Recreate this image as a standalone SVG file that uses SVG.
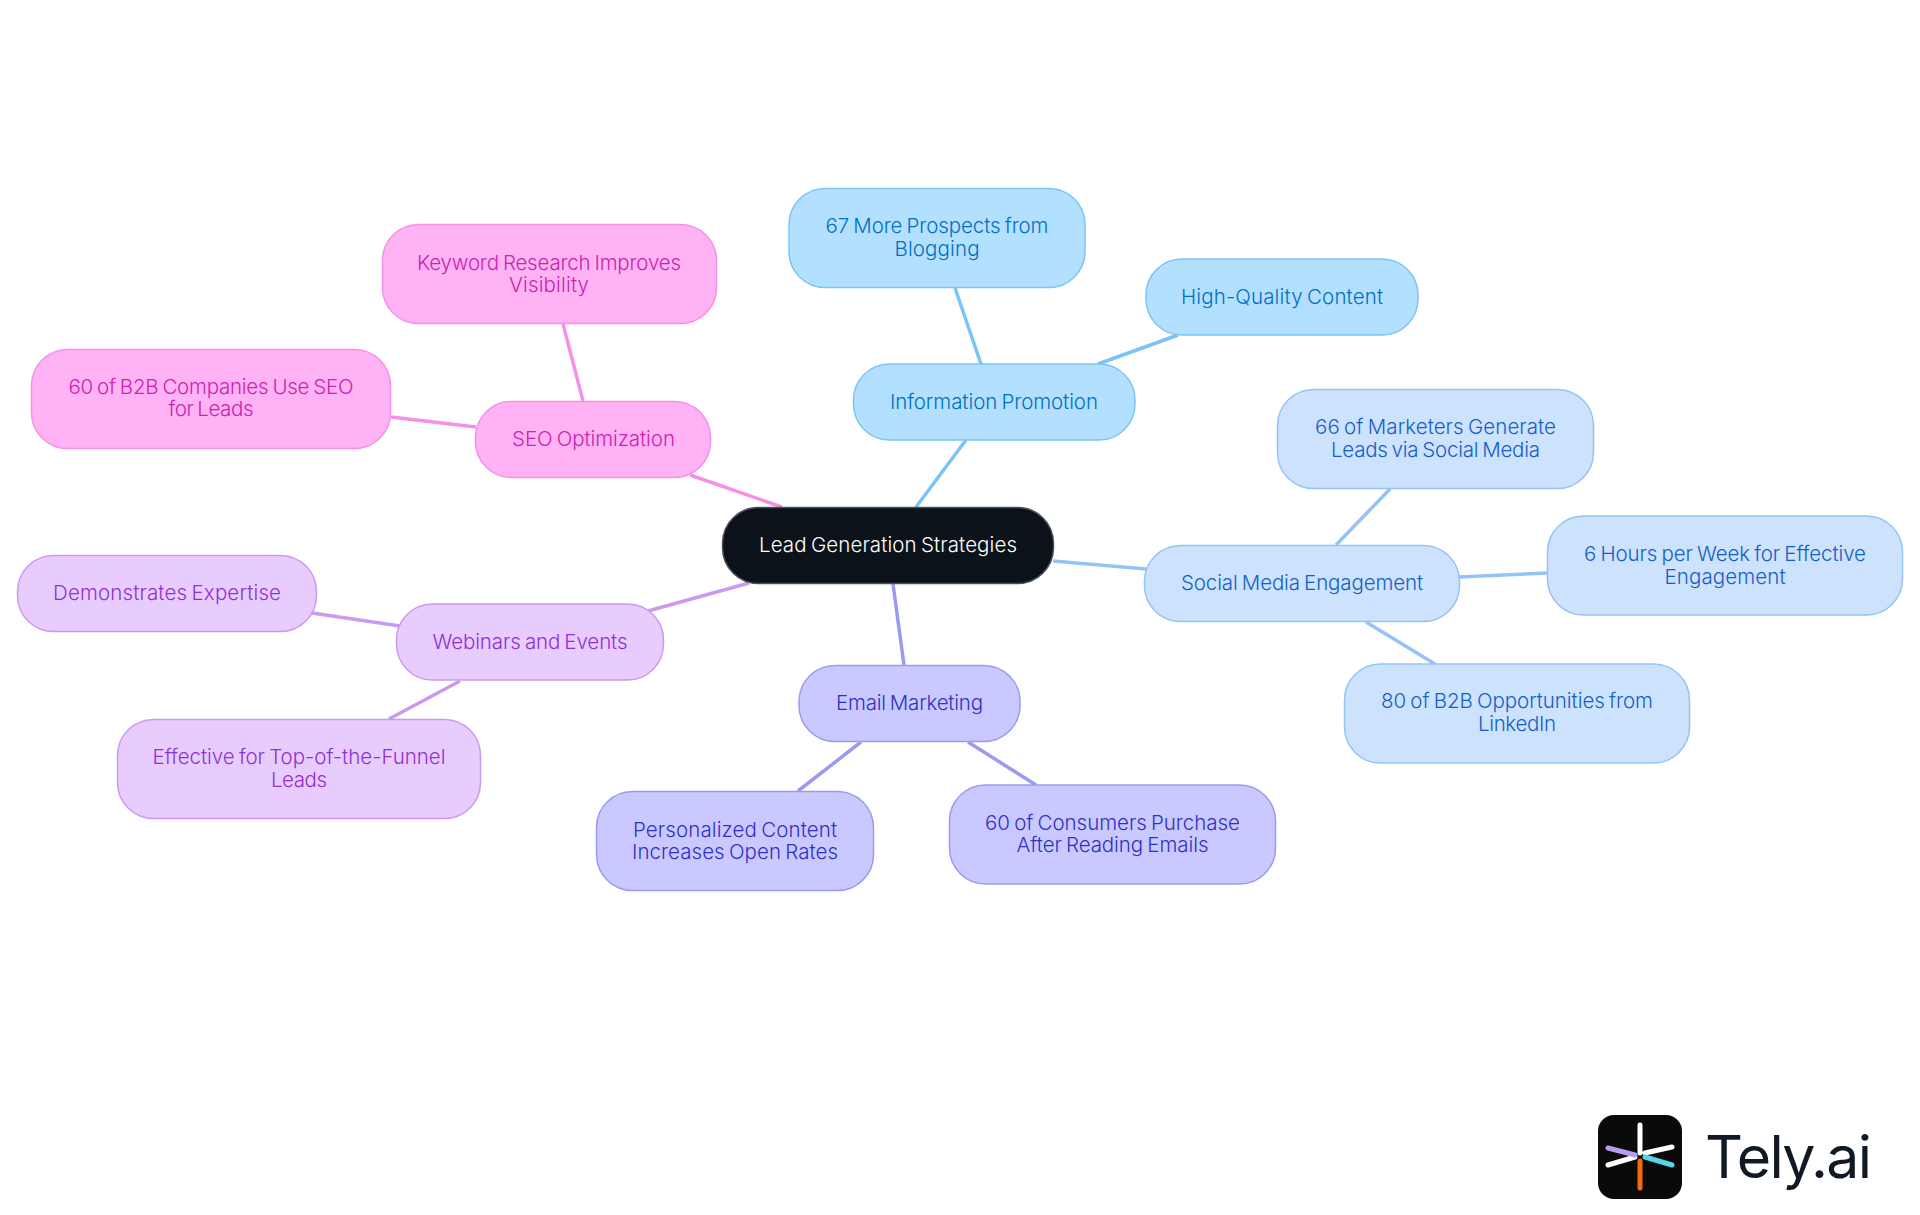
<svg xmlns="http://www.w3.org/2000/svg" width="1920" height="1215" viewBox="0 0 1920 1215">
<style>
text{font-family:"Inter","Noto Sans",sans-serif;font-size:20.5px;text-anchor:middle;font-weight:340;word-spacing:-1.5px}
.c{fill:none;stroke-width:3.5}
.n{stroke-width:1.5}
.a rect{fill:#b3e0ff;stroke:#7cc4f5}.a text{fill:#0070c4}
.b rect{fill:#cce2fd;stroke:#96c3f5}.b text{fill:#1560c8}
.d rect{fill:#c9c9ff;stroke:#9a9aee}.d text{fill:#3030c8}
.e rect{fill:#e8ccfd;stroke:#cc99f0}.e text{fill:#9030d8}
.f rect{fill:#ffb3f5;stroke:#f590e6}.f text{fill:#cc22b0}
</style>
<rect width="1920" height="1215" fill="#fff"/>
<g id="connectors">
<path class="c" stroke="#7cc4f5" d="M916 507L966 440M981 364L955 288M1098 364L1178 335"/>
<path class="c" stroke="#96c3f5" d="M1053 561L1146 569M1336 545L1390 489M1459 577L1548 573M1366 622L1435 664"/>
<path class="c" stroke="#9a9aee" d="M893 584L904 665M861 742L798 791M968 742L1036 785"/>
<path class="c" stroke="#cc99f0" d="M749 583L648 611M400 626L312 613M460 681L389 719"/>
<path class="c" stroke="#f590e6" d="M782 507L690 475M583 401L563 324M476 427L391 417"/>
</g>
<g id="root"><rect x="722.5" y="507.5" width="331" height="76" rx="36" fill="#0c121a" stroke="#4a4f55" stroke-width="1.5"/><text x="888" y="552" fill="#fff" textLength="258">Lead Generation Strategies</text></g>
<g id="info" class="a"><rect class="n" x="853.5" y="364" width="281.5" height="76" rx="36"/><text x="994" y="409" textLength="208">Information Promotion</text></g>
<g id="blog" class="a"><rect class="n" x="789" y="188.5" width="296" height="99" rx="36"/><text x="937" y="233" textLength="223">67 More Prospects from</text><text x="937" y="256" textLength="85">Blogging</text></g>
<g id="quality" class="a"><rect class="n" x="1146" y="259" width="272" height="76" rx="36"/><text x="1282" y="304" textLength="202">High-Quality Content</text></g>
<g id="social" class="b"><rect class="n" x="1144.5" y="545.5" width="315" height="76" rx="36"/><text x="1302" y="590" textLength="242">Social Media Engagement</text></g>
<g id="marketers" class="b"><rect class="n" x="1277.500" y="389.500" width="316" height="99" rx="36"/><text x="1435.500" y="434" textLength="241">66 of Marketers Generate</text><text x="1435.500" y="457" textLength="209">Leads via Social Media</text></g>
<g id="hours" class="b"><rect class="n" x="1547.500" y="516" width="355" height="99" rx="36"/><text x="1725" y="561" textLength="282">6 Hours per Week for Effective</text><text x="1725" y="584" textLength="121">Engagement</text></g>
<g id="linkedin" class="b"><rect class="n" x="1344.500" y="664" width="345" height="99" rx="36"/><text x="1517" y="708" textLength="272">80 of B2B Opportunities from</text><text x="1517" y="731" textLength="78">LinkedIn</text></g>
<g id="email" class="d"><rect class="n" x="799" y="665.500" width="221" height="76" rx="36"/><text x="909.500" y="710" textLength="147">Email Marketing</text></g>
<g id="personal" class="d"><rect class="n" x="596.500" y="791.500" width="277" height="99" rx="36"/><text x="735" y="837" textLength="204">Personalized Content</text><text x="735" y="859" textLength="206">Increases Open Rates</text></g>
<g id="consumers" class="d"><rect class="n" x="949.500" y="785" width="326" height="99" rx="36"/><text x="1112.500" y="830" textLength="255">60 of Consumers Purchase</text><text x="1112.500" y="852" textLength="192">After Reading Emails</text></g>
<g id="webinars" class="e"><rect class="n" x="396.500" y="604" width="267" height="76" rx="36"/><text x="530" y="649" textLength="195">Webinars and Events</text></g>
<g id="expertise" class="e"><rect class="n" x="17.500" y="555.500" width="299" height="76" rx="36"/><text x="167" y="600" textLength="228">Demonstrates Expertise</text></g>
<g id="funnel" class="e"><rect class="n" x="117.500" y="719.500" width="363" height="99" rx="36"/><text x="299" y="764" textLength="293">Effective for Top-of-the-Funnel</text><text x="299" y="787" textLength="56">Leads</text></g>
<g id="seo" class="f"><rect class="n" x="475.500" y="401.500" width="235" height="76" rx="36"/><text x="593.500" y="446" textLength="163">SEO Optimization</text></g>
<g id="b2b" class="f"><rect class="n" x="31.500" y="349.500" width="359" height="99" rx="36"/><text x="211" y="394" textLength="285">60 of B2B Companies Use SEO</text><text x="211" y="416" textLength="85">for Leads</text></g>
<g id="keyword" class="f"><rect class="n" x="382.500" y="224.500" width="334" height="99" rx="36"/><text x="549" y="270" textLength="264">Keyword Research Improves</text><text x="549" y="292" textLength="80">Visibility</text></g>
<g id="logo">
<rect x="1598" y="1115" width="84" height="84" rx="16" fill="#0a0a0a"/>
<path stroke="#fff" stroke-width="5" stroke-linecap="round" d="M1640 1125V1153M1608 1165L1635 1157M1645 1153L1672 1147"/>
<path stroke="#b79cf0" stroke-width="5" stroke-linecap="round" d="M1608 1148L1635 1155"/>
<path stroke="#55d5ea" stroke-width="5" stroke-linecap="round" d="M1645 1157L1672 1165"/>
<path stroke="#f26a0d" stroke-width="5" stroke-linecap="round" d="M1640 1161V1188"/>
<text x="1705" y="1178" style="text-anchor:start;font-size:59px;font-weight:400;word-spacing:0" fill="#111a24" textLength="167">Tely.ai</text>
</g>
</svg>
